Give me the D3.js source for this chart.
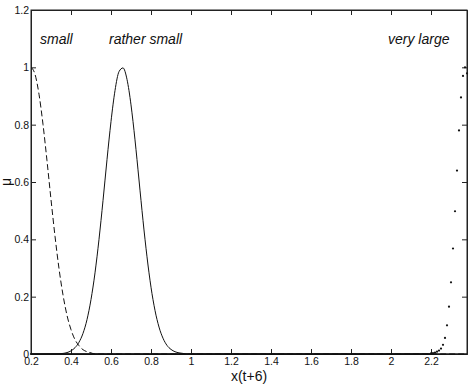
<!DOCTYPE html>
<html>
<head>
<meta charset="utf-8">
<script src="https://cdn.jsdelivr.net/npm/d3@7"></script>
<style>
  body { margin: 0; background: #fff; }
  text { font-family: "Liberation Sans", Arial, sans-serif; fill: #111; }
  .tick-label { font-size: 10.5px; }
  .label { font-size: 14px; font-style: italic; }
</style>
</head>
<body>
<div id="wrapper"></div>
<script>
// membership functions for x(t+6)
const smallX  = [0.20, 0.22, 0.24, 0.26, 0.28, 0.30, 0.32, 0.34, 0.36, 0.38, 0.40, 0.42, 0.44, 0.46, 0.48, 0.50, 0.52, 2.38] ;
const smallMu = [1.00, 0.976, 0.906, 0.801, 0.674, 0.539, 0.411, 0.298, 0.206, 0.135, 0.085, 0.050, 0.029, 0.015, 0.008, 0.004, 0.0, 0.0] ;

const ratherSmallX  = [0.20, 0.34, 0.36, 0.38, 0.40, 0.42, 0.44, 0.46, 0.48, 0.50, 0.52, 0.54, 0.56, 0.58, 0.60, 0.62, 0.64, 0.66,
                       0.68, 0.70, 0.72, 0.74, 0.76, 0.78, 0.80, 0.82, 0.84, 0.86, 0.88, 0.90, 0.92, 0.94, 0.96, 0.98, 2.38] ;
const ratherSmallMu = [0.0, 0.001, 0.002, 0.005, 0.011, 0.022, 0.041, 0.072, 0.120, 0.190, 0.283, 0.400, 0.535, 0.678, 0.811, 0.919, 0.985, 0.998,
                       0.958, 0.869, 0.747, 0.607, 0.466, 0.339, 0.233, 0.152, 0.094, 0.055, 0.030, 0.016, 0.008, 0.004, 0.002, 0.0, 0.0] ;

// "very large" is drawn as dots; it sits on zero from 0.2 up to 2.2
const veryLargeZeroFrom = 0.2 ;
const veryLargeZeroTo = 2.19 ;
const veryLargeX  = [2.20, 2.21, 2.22, 2.23, 2.24, 2.25, 2.26, 2.27, 2.28, 2.29, 2.30, 2.31, 2.32, 2.33, 2.34, 2.35, 2.36, 2.37, 2.38] ;
const veryLargeMu = [0.002, 0.003, 0.005, 0.008, 0.012, 0.019, 0.032, 0.056, 0.100, 0.165, 0.250, 0.368, 0.498, 0.640, 0.780, 0.895, 0.970, 1.0, 0.979] ;

const xTicks = [0.2, 0.4, 0.6, 0.8, 1, 1.2, 1.4, 1.6, 1.8, 2, 2.2] ;
const yTicks = [0, 0.2, 0.4, 0.6, 0.8, 1, 1.2] ;

const termNames = ["small", "rather small", "very large"] ;
const termX = [0.245, 0.59, 1.985] ;

function drawChart() {
  let dimensions = {
    width: 474,
    height: 387,
    margin: {
      top: 10,
      right: 7,
      bottom: 33,
      left: 31,
    },
  }
  dimensions.boundedWidth = dimensions.width
    - dimensions.margin.left
    - dimensions.margin.right
  dimensions.boundedHeight = dimensions.height
    - dimensions.margin.top
    - dimensions.margin.bottom

  const svg = d3.select("#wrapper").append("svg")
      .attr("width", dimensions.width)
      .attr("height", dimensions.height)
  ;
  const bounds = svg.append("g")
      .attr("transform", `translate(${dimensions.margin.left}, ${dimensions.margin.top})`)
  ;

  const xScale = d3.scaleLinear()
    .domain([0.2, 2.38])
    .range([0, dimensions.boundedWidth])
  ;
  const yScale = d3.scaleLinear()
    .domain([0, 1.2])
    .range([dimensions.boundedHeight, 0])
  ;

  // the box with inward ticks on all four sides
  const tickLen = 5 ;
  const fmt = (d) => d3.format("")(d) ;
  const xAxisBottom = bounds.append("g")
    .attr("transform", `translate(0, ${dimensions.boundedHeight})`)
    .call(d3.axisBottom(xScale).tickValues(xTicks).tickSize(-tickLen).tickPadding(4).tickFormat(fmt))
  ;
  const xAxisTop = bounds.append("g")
    .call(d3.axisTop(xScale).tickValues(xTicks).tickSize(-tickLen).tickFormat(""))
  ;
  const yAxisLeft = bounds.append("g")
    .call(d3.axisLeft(yScale).tickValues(yTicks).tickSize(-tickLen).tickPadding(2).tickFormat(fmt))
  ;
  const yAxisRight = bounds.append("g")
    .attr("transform", `translate(${dimensions.boundedWidth}, 0)`)
    .call(d3.axisRight(yScale).tickValues(yTicks).tickSize(-tickLen).tickFormat(""))
  ;
  [xAxisBottom, xAxisTop, yAxisLeft, yAxisRight].forEach((ax) => {
    ax.select(".domain").attr("stroke", "#222") ;
    ax.selectAll(".tick line").attr("stroke", "#222") ;
    ax.selectAll("text").attr("class", "tick-label").attr("font-size", null).attr("font-family", null) ;
  }) ;
  // make sure the box is closed
  bounds.append("rect")
    .attr("width", dimensions.boundedWidth)
    .attr("height", dimensions.boundedHeight)
    .attr("fill", "none")
    .attr("stroke", "#222")
  ;

  const line = d3.line()
    .x((d) => xScale(d[0]))
    .y((d) => yScale(d[1]))
    .curve(d3.curveMonotoneX)
  ;

  bounds.append("path")
    .datum(d3.zip(smallX, smallMu))
    .attr("d", line)
    .attr("fill", "none")
    .attr("stroke", "#111")
    .attr("stroke-width", 1)
    .attr("stroke-dasharray", "6,3")
  ;

  bounds.append("path")
    .datum(d3.zip(ratherSmallX, ratherSmallMu))
    .attr("d", line)
    .attr("fill", "none")
    .attr("stroke", "#111")
    .attr("stroke-width", 1)
  ;

  const zeroDots = d3.range(veryLargeZeroFrom, veryLargeZeroTo + 0.001, 0.01).map((x) => [x, 0]) ;
  const dots = zeroDots.concat(d3.zip(veryLargeX, veryLargeMu)) ;
  bounds.selectAll("circle")
    .data(dots)
    .enter().append("circle")
      .attr("cx", (d) => xScale(d[0]))
      .attr("cy", (d) => yScale(d[1]))
      .attr("r", 1.1)
      .attr("fill", "#111")
  ;

  // term names
  bounds.selectAll(".label")
    .data(termNames)
    .enter().append("text")
      .attr("class", "label")
      .attr("x", (d, i) => xScale(termX[i]))
      .attr("y", yScale(1.081))
      .text((d) => d)
  ;

  // axis titles
  svg.append("text")
    .attr("x", dimensions.margin.left + dimensions.boundedWidth / 2)
    .attr("y", 381)
    .attr("text-anchor", "middle")
    .style("font-size", "14px")
    .text("x(t+6)")
  ;
  svg.append("text")
    .attr("transform", `translate(11, ${dimensions.margin.top + yScale(0.6)}) rotate(-90)`)
    .attr("text-anchor", "middle")
    .style("font-size", "14px")
    .text("μ")
  ;
}

drawChart() ;
</script>
</body>
</html>
